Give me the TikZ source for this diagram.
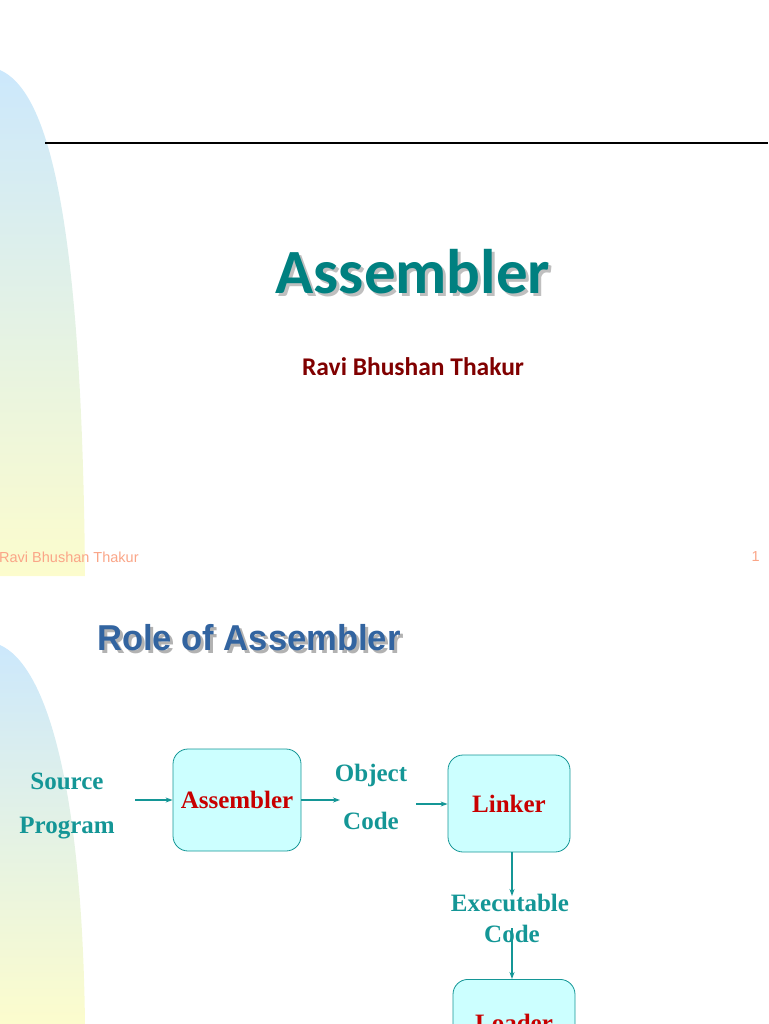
\documentclass[tikz,border=0pt]{standalone}
\usepackage{fontspec}
\setmainfont{Liberation Serif}
\newfontfamily\calfont{Carlito}
\newfontfamily\arsfont{Liberation Sans}
\usetikzlibrary{arrows.meta}
\definecolor{teal2}{RGB}{0,128,128}
\definecolor{tealtx}{RGB}{20,150,150}
\definecolor{dred}{RGB}{128,0,0}
\definecolor{bred}{RGB}{200,0,0}
\definecolor{salmon2}{RGB}{250,165,135}
\definecolor{roleblue}{RGB}{50,100,160}
\definecolor{boxfill}{RGB}{204,255,255}
\definecolor{sbl}{RGB}{204,232,252}
\definecolor{syl}{RGB}{252,252,205}
\tikzset{
  procbox/.style={draw=tealtx, fill=boxfill, rounded corners=15pt, line width=0.8pt},
  lbl/.style={font=\bfseries\fontsize{25}{27}\selectfont, text=tealtx, inner sep=0},
  boxtxt/.style={font=\bfseries\fontsize{25}{27}\selectfont, text=bred, inner sep=0},
  arr/.style={draw=tealtx, line width=1.2pt, -{Stealth[length=7pt,width=5pt]}}
}
\begin{document}
\begin{tikzpicture}[x=1pt,y=-1pt]
\useasboundingbox (0,0) rectangle (768,1024);
\clip (0,0) rectangle (768,1024);
% slide 1 side shape
\shade[top color=sbl, bottom color=syl] (0,70) .. controls (45,90) and (82,200) .. (85,576) -- (0,576) -- cycle;
\draw[line width=2pt] (45,143) -- (768,143);
\node[font=\calfont\bfseries\fontsize{63}{63}\selectfont, text=gray!50] at (416,275) {Assembler};
\node (t1) [font=\calfont\bfseries\fontsize{63}{63}\selectfont, text=teal2] at (413,272) {Assembler};
\node (au) [font=\calfont\bfseries\fontsize{25.5}{27}\selectfont, text=dred] at (413,367) {Ravi Bhushan Thakur};
\node (ft) [font=\arsfont\fontsize{14.5}{16}\selectfont, text=salmon2, anchor=west, inner sep=0] at (-1,557) {Ravi Bhushan Thakur};
\node (pg) [font=\arsfont\fontsize{14.5}{16}\selectfont, text=salmon2, anchor=east, inner sep=0] at (760,557) {1};
% slide 2 side shape
\shade[top color=sbl, bottom color=syl] (0,645) .. controls (45,665) and (82,780) .. (85,1024) -- (0,1024) -- cycle;
\node[font=\arsfont\bfseries\fontsize{36}{36}\selectfont, text=gray!60, anchor=west, xscale=0.96, inner sep=0] at (100,641) {Role of Assembler};
\node (rt) [font=\arsfont\bfseries\fontsize{36}{36}\selectfont, text=roleblue, anchor=west, xscale=0.96, inner sep=0] at (97,638) {Role of Assembler};
% diagram
\node (asm) [procbox, minimum width=128pt, minimum height=102pt] at (237,800) {};
\node[boxtxt] at (237,800) {Assembler};
\node (lnk) [procbox, minimum width=122pt, minimum height=97pt] at (509,803.5) {};
\node[boxtxt] at (509,804) {Linker};
\node (ldr) [procbox, minimum width=122pt, minimum height=100pt, anchor=north] at (514,979) {};
\node[boxtxt, anchor=north] at (514,1014) {Loader};
\node (s1) [lbl] at (67,781) {Source};
\node (s2) [lbl] at (67,828) {Program};
\node (o1) [lbl] at (371,775) {Object};
\node (o2) [lbl] at (371,821) {Code};
\node (e1) [lbl] at (510,903) {Executable};
\node (e2) [lbl] at (512,934) {Code};
\coordinate (a0) at (135,800);
\coordinate (a1) at (340,800);
\coordinate (a2) at (416,804);
\coordinate (v0) at (512,896);
\coordinate (v1) at (512,928);
\draw[arr] (a0) -- (asm.west |- a0);
\draw[arr] (asm.east |- a1) -- (a1);
\draw[arr] (a2) -- (lnk.west |- a2);
\draw[arr] (lnk.south -| v0) -- (v0);
\draw[arr] (v1) -- (ldr.north -| v1);
\end{tikzpicture}
\end{document}
